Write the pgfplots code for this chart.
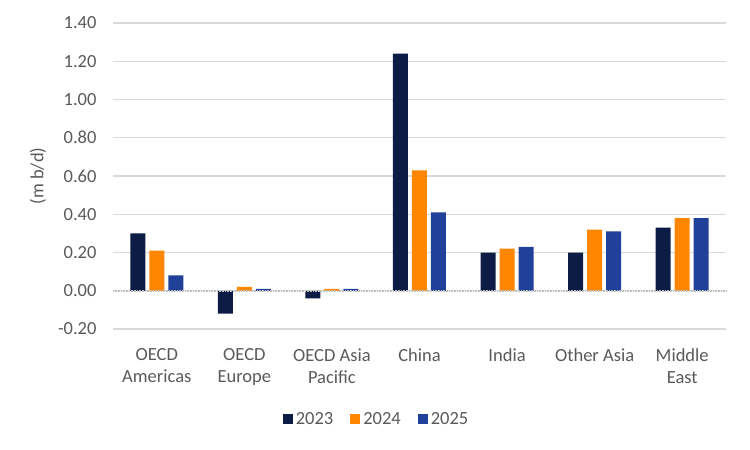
\documentclass[border=0pt]{standalone}
\usepackage{fontspec}
\setmainfont{Carlito}
\usepackage{pgfplots}
\pgfplotsset{compat=1.18}

\definecolor{c2023}{HTML}{0D1C45}
\definecolor{c2024}{HTML}{FF8600}
\definecolor{c2025}{HTML}{21409A}
\definecolor{gridgray}{HTML}{D9D9D9}
\definecolor{zerogray}{HTML}{BFBFBF}
\definecolor{txtgray}{HTML}{595959}

\begin{document}
\begin{tikzpicture}[x=1pt,y=1pt]
\path[use as bounding box] (-113pt,-121pt) rectangle (637pt,329pt);
\begin{axis}[
    at={(0pt,0pt)}, anchor=south west,
    scale only axis,
    width=613pt, height=306pt,
    ybar=4pt, bar width=15pt,
    xmin=-0.5, xmax=6.5,
    ymin=-0.2, ymax=1.4,
    ytick={-0.2,0,0.2,0.4,0.6,0.8,1.0,1.2,1.4},
    xtick={0,1,2,3,4,5,6},
    xticklabels={OECD\\Americas, OECD\\Europe, OECD Asia\\Pacific, China, India, Other Asia, Middle\\East},
    x tick label style={align=center, anchor=north, yshift=-16pt},
    y tick label style={xshift=-13pt,
        /pgf/number format/fixed, /pgf/number format/fixed zerofill,
        /pgf/number format/precision=2, /pgf/number format/assume math mode=true},
    ticklabel style={font=\fontsize{18.5}{22}\selectfont, text=txtgray},
    major tick length=0pt,
    axis line style={draw=none},
    ymajorgrids, grid style={gridgray, line width=1.2pt},
    ylabel={(m b/d)},
    ylabel style={font=\fontsize{18.5}{22}\selectfont, text=txtgray,
        at={(axis description cs:-0.1225,0.5)}, anchor=center},
    legend style={at={(0.43,-0.294)}, anchor=center, draw=none, legend columns=-1,
        font=\fontsize{18.5}{22}\selectfont, text=txtgray,
        /tikz/every odd column/.append style={column sep=1pt},
        /tikz/every even column/.append style={column sep=15pt}},
    legend image code/.code={\fill[#1] (0pt,-5pt) rectangle (10pt,5pt);},
    clip=false,
]
\addplot[fill=c2023, draw=none] coordinates {(0,0.30) (1,-0.12) (2,-0.04) (3,1.24) (4,0.20) (5,0.20) (6,0.33)};
\addplot[fill=c2024, draw=none] coordinates {(0,0.21) (1,0.02) (2,0.01) (3,0.63) (4,0.22) (5,0.32) (6,0.38)};
\addplot[fill=c2025, draw=none] coordinates {(0,0.08) (1,0.01) (2,0.01) (3,0.41) (4,0.23) (5,0.31) (6,0.38)};
\draw[zerogray, line width=1.8pt, dash pattern=on 1pt off 0.6pt] (axis cs:-0.5,0) -- (axis cs:6.5,0);
\legend{2023,2024,2025}
\end{axis}
\end{tikzpicture}
\end{document}
